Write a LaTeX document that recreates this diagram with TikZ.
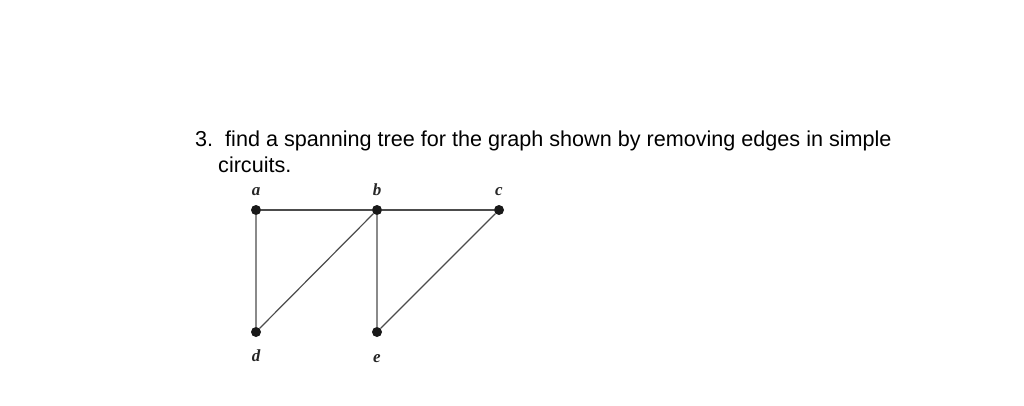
\documentclass[tikz,border=0pt]{standalone}
\usepackage{fontspec}
\setmainfont{Liberation Sans}
\newfontfamily\serifit{Liberation Serif}
\begin{document}
\begin{tikzpicture}[x=1pt,y=-1pt,
  vtx/.style={circle,fill=black!90,inner sep=0pt,minimum size=10pt},
  lbl/.style={font=\serifit\itshape\bfseries\fontsize{17}{17}\selectfont,inner sep=0pt,text=black!85},
  edge/.style={draw=black!70,line width=1.2pt}]
\useasboundingbox[fill=white] (0,0) rectangle (1024,406);
\node[anchor=base west,inner sep=0pt,font=\fontsize{21.6}{24}\selectfont] (t1) at (195,147) {3.\hspace{12pt}find a spanning tree for the graph shown by removing edges in simple};
\node[anchor=base west,inner sep=0pt,font=\fontsize{21.6}{24}\selectfont] (t2) at (218,172) {circuits.};
\node[vtx] (a) at (256,210) {};
\node[vtx] (b) at (377,210) {};
\node[vtx] (c) at (499,210) {};
\node[vtx] (d) at (256,332) {};
\node[vtx] (e) at (377,332) {};
\node[lbl] (la) at (256,192) {a};
\node[lbl] (lb) at (377,190) {b};
\node[lbl] (lc) at (499,192) {c};
\node[lbl] (ld) at (256,356) {d};
\node[lbl] (le) at (377,359) {e};
\draw[edge] (a) -- (b) -- (c);
\draw[edge] (a) -- (d) -- (b) -- (e) -- (c);
\end{tikzpicture}
\end{document}
